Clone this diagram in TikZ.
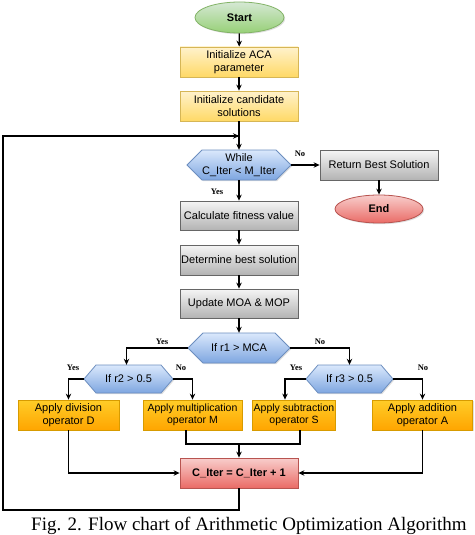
\documentclass[tikz,border=0pt]{standalone}
\usepackage{fontspec}
\setmainfont{Liberation Sans}
\newfontfamily\capfont{Liberation Serif}
\usetikzlibrary{arrows.meta,shapes.geometric,shadows}
\definecolor{gT}{HTML}{D5E8D4}\definecolor{gB}{HTML}{97D077}\definecolor{gS}{HTML}{82B366}
\definecolor{yT}{HTML}{FFF2CC}\definecolor{yB}{HTML}{FFD966}\definecolor{yS}{HTML}{D6B656}
\definecolor{hT}{HTML}{F5F5F5}\definecolor{hB}{HTML}{B3B3B3}\definecolor{hS}{HTML}{666666}
\definecolor{bT}{HTML}{DAE8FC}\definecolor{bB}{HTML}{7EA6E0}\definecolor{bS}{HTML}{6C8EBF}
\definecolor{rT}{HTML}{F8CECC}\definecolor{rB}{HTML}{EA6B66}\definecolor{rS}{HTML}{B85450}
\definecolor{oT}{HTML}{FFCD28}\definecolor{oB}{HTML}{FFA500}\definecolor{oS}{HTML}{D79B00}
\newcommand{\hexnode}[7]{%
  \shade[hexbox] ({#2-#4/2},#3) -- ({#2-#4/2+#6},{#3-#5/2}) -- ({#2+#4/2-#6},{#3-#5/2})
     -- ({#2+#4/2},#3) -- ({#2+#4/2-#6},{#3+#5/2}) -- ({#2-#4/2+#6},{#3+#5/2}) -- cycle;
  \node[txt, minimum width=#4pt, minimum height=#5pt] (#1) at (#2,#3) {#7};}
\tikzset{
  base/.style={draw, line width=0.8pt, inner sep=1pt, align=center, font=\fontsize{11}{12.5}\selectfont,
     drop shadow={opacity=0.25, shadow xshift=1.2pt, shadow yshift=-1.2pt}},
  txt/.style={inner sep=0pt, align=center, font=\fontsize{11}{12.5}\selectfont},
  ybox/.style={base, rectangle, top color=yT, bottom color=yB, draw=yS, minimum width=118pt, minimum height=30pt},
  gbox/.style={base, rectangle, top color=hT, bottom color=hB, draw=hS, minimum width=118pt, minimum height=30pt},
  obox/.style={base, rectangle, top color=oT, bottom color=oB, draw=oS, minimum height=30pt},
  rbox/.style={base, rectangle, top color=rT, bottom color=rB, draw=rS, minimum width=118pt, minimum height=30pt},
  gell/.style={base, ellipse, top color=gT, bottom color=gB, draw=gS, inner sep=0pt},
  rell/.style={base, ellipse, top color=rT, bottom color=rB, draw=rS, inner sep=0pt},
  hexbox/.style={top color=bT, bottom color=bB, draw=bS, line width=0.8pt,
     drop shadow={opacity=0.25, shadow xshift=1.2pt, shadow yshift=-1.2pt}},
  arr/.style={-{Stealth[length=6pt,width=5.5pt]}, line width=1.2pt},
  ln/.style={line width=1.2pt},
  lab/.style={font=\capfont\bfseries\fontsize{8.5}{9}\selectfont, inner sep=0pt}
}
\begin{document}
\begin{tikzpicture}[x=1pt,y=-1pt]
\useasboundingbox (0,0) rectangle (474,535);
\fill[white] (0,0) rectangle (474,535);
% top column
\node[gell, minimum width=89pt, minimum height=31pt, font=\bfseries\fontsize{11}{12.5}\selectfont] (start) at (239.5,17.5) {Start};
\node[ybox] (init1) at (239,62) {Initialize ACA\\parameter};
\node[ybox] (init2) at (239,106) {Initialize candidate\\solutions};
\hexnode{while}{239}{165}{104}{30}{15}{While\\C\_Iter < M\_Iter}
\node[gbox] (ret) at (379,165) {Return Best Solution};
\node[rell, minimum width=88pt, minimum height=28pt, font=\bfseries\fontsize{11}{12.5}\selectfont] (end) at (379,209) {End};
\node[gbox, minimum height=29pt] (calc) at (239,215.5) {Calculate fitness value};
\node[gbox] (det) at (239,260) {Determine best solution};
\node[gbox, minimum height=29pt] (upd) at (239,303.5) {Update MOA \& MOP};
\hexnode{r1}{239}{348}{102}{30}{15}{If r1 > MCA}
\hexnode{r2}{128.5}{379}{89}{28}{12}{If r2 > 0.5}
\hexnode{r3}{349.5}{379}{87}{28}{12}{If r3 > 0.5}
\node[obox, minimum width=101pt] (D) at (68.5,415) {Apply division\\operator D};
\node[obox, minimum width=99pt, font=\fontsize{10.5}{12.5}\selectfont] (M) at (192.5,415) {Apply multiplication\\operator M};
\node[obox, minimum width=80pt, font=\fontsize{10.5}{12.5}\selectfont] (S) at (294,415) {Apply subtraction\\operator S};
\node[obox, minimum width=100pt] (A) at (422.5,415) {Apply addition\\operator A};
\node[rbox, font=\bfseries\fontsize{11}{12.5}\selectfont] (citer) at (239,473) {C\_Iter = C\_Iter + 1};
% coordinates
\coordinate (j) at (239,444);
\coordinate (lA) at (239,510);
\coordinate (lB) at (3,510);
\coordinate (lC) at (3,136);
\coordinate (lD) at (239,136);
% connectors
\draw[arr] (start) -- (init1);
\draw[arr] (init1) -- (init2);
\draw[arr] (init2) -- (while);
\draw[arr] (while.east) -- (ret.west);
\draw[arr] (ret) -- (end);
\draw[arr] (while) -- (calc);
\draw[arr] (calc) -- (det);
\draw[arr] (det) -- (upd);
\draw[arr] (upd) -- (r1);
\draw[arr] (r1.west) -| ([xshift=-2pt]r2.north);
\draw[arr] (r1.east) -| (r3.north);
\draw[arr] (r2.west) -| (D.north);
\draw[arr] (r2.east) -| (M.north);
\draw[arr] (r3.west) -| ([xshift=-9pt]S.north);
\draw[arr] (r3.east) -| (A.north);
\draw[ln] ([xshift=-6.5pt]M.south) |- (j) -| ([xshift=6pt]S.south);
\draw[arr] (j) -- (citer.north);
\draw[arr] (D.south) |- (citer.west);
\draw[arr] (A.south) |- (citer.east);
\draw[ln] (citer.south) -- (lA) -- (lB) -- (lC) -- (lD);
\draw[arr] (lC) -- (lD);
% labels
\node[lab] (lno1) at (300,154) {No};
\node[lab] (lyes1) at (217,192) {Yes};
\node[lab] (lyes2) at (162,342) {Yes};
\node[lab] (lno2) at (320,342) {No};
\node[lab] (lyes3) at (73,368) {Yes};
\node[lab] (lno3) at (181,368) {No};
\node[lab] (lyes4) at (296,368) {Yes};
\node[lab] (lno4) at (423,368) {No};
% caption
\node[anchor=base west, inner sep=0pt, font=\capfont\fontsize{19}{21}\selectfont] (cap) at (31,530.5) {Fig. 2. Flow chart of Arithmetic Optimization Algorithm};
\end{tikzpicture}
\end{document}
